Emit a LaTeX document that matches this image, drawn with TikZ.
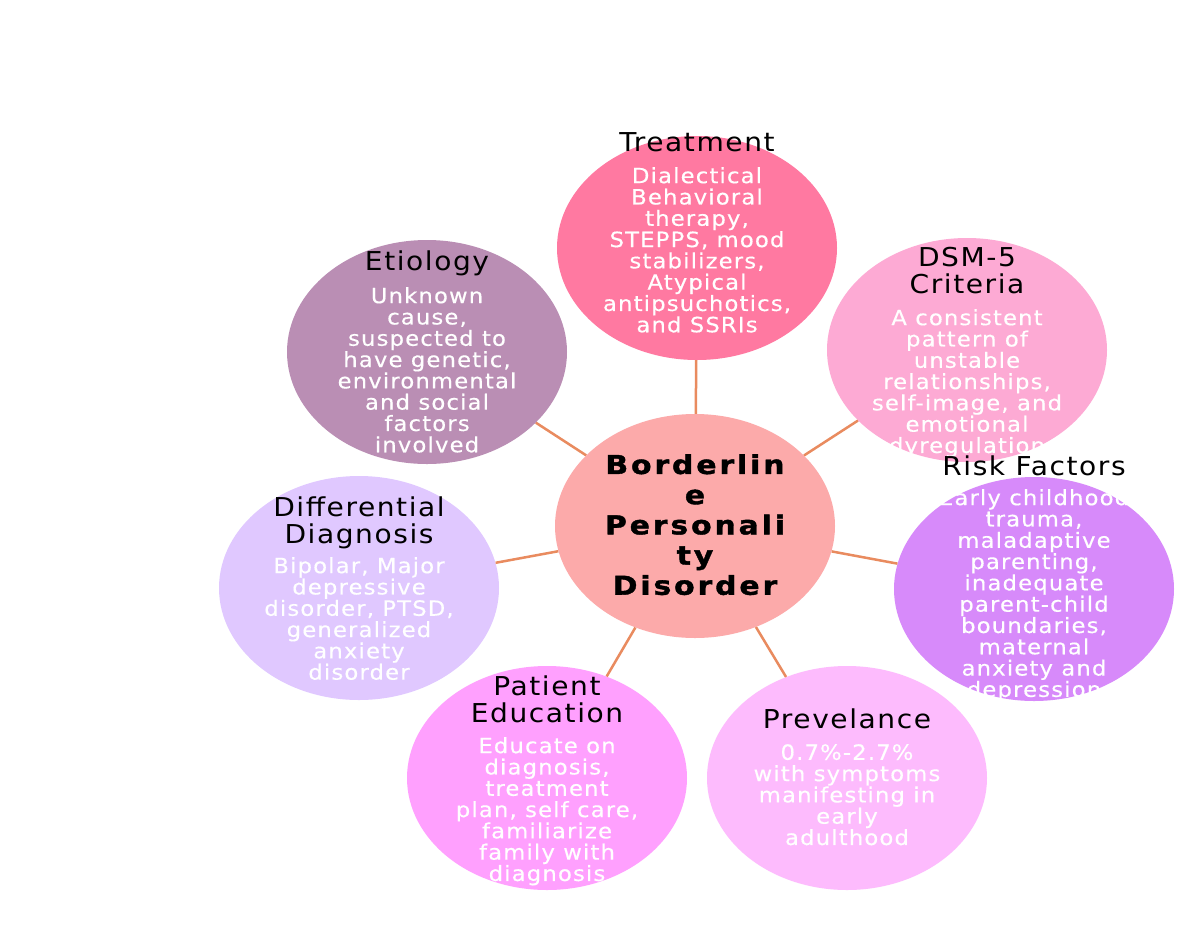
\documentclass[tikz,border=0pt]{standalone}
\usepackage{fontspec}
\usetikzlibrary{shapes.geometric}
\setmainfont{DejaVu Sans}
\newfontfamily\titlefont[FakeStretch=1.08,LetterSpace=6]{DejaVu Sans}
\newfontfamily\bodyfont[FakeStretch=1.08,LetterSpace=5.6,FakeBold=0.4]{DejaVu Sans}
\newfontfamily\centerfont[FakeStretch=1.15,LetterSpace=11,FakeBold=1.5]{DejaVu Sans}
\definecolor{cCenter}{RGB}{252,170,170}
\definecolor{cTreat}{RGB}{255,121,161}
\definecolor{cDsm}{RGB}{253,170,212}
\definecolor{cRisk}{RGB}{215,138,250}
\definecolor{cPrev}{RGB}{253,187,253}
\definecolor{cEdu}{RGB}{255,160,254}
\definecolor{cDiff}{RGB}{224,200,255}
\definecolor{cEtio}{RGB}{186,142,180}
\definecolor{linkc}{RGB}{233,139,95}
\begin{document}
\begin{tikzpicture}[x=1pt,y=-1pt,
  bubble/.style={ellipse, minimum width=280pt, minimum height=224pt, inner sep=0pt, draw=none},
  conn/.style={draw=linkc, line width=2.5pt},
  ttl/.style={anchor=north, inner sep=0pt, align=center, text=black, font=\titlefont\fontsize{26}{27}\selectfont},
  bdy/.style={anchor=north, inner sep=0pt, align=center, text=white, font=\bodyfont\fontsize{21}{21.3}\selectfont},
  ctr/.style={anchor=north, inner sep=0pt, align=center, text=black, font=\centerfont\bfseries\fontsize{26}{30.2}\selectfont}]
\fill[white] (0,0) rectangle (1200,927);
\useasboundingbox (0,0) rectangle (1200,927);
% bubbles
\node[bubble, fill=cCenter] (bpd) at (695,526) {};
\node[bubble, fill=cTreat] (treat) at (697,248) {};
\node[bubble, fill=cDsm] (dsm) at (967,350) {};
\node[bubble, fill=cRisk] (risk) at (1034,589) {};
\node[bubble, fill=cPrev] (prev) at (847,778) {};
\node[bubble, fill=cEdu] (edu) at (547,778) {};
\node[bubble, fill=cDiff] (diff) at (359,588) {};
\node[bubble, fill=cEtio] (etio) at (427,352) {};
% connectors
\draw[conn] (bpd) -- (treat);
\draw[conn] (bpd) -- (dsm);
\draw[conn] (bpd) -- (risk);
\draw[conn] (bpd) -- (prev);
\draw[conn] (bpd) -- (edu);
\draw[conn] (bpd) -- (diff);
\draw[conn] (bpd) -- (etio);
% texts
\node[ctr] (bpdT) at (695,454) {Borderlin\\e\\Personali\\ty\\Disorder};
\node[ttl] (treatT) at (697,132) {Treatment};
\node[bdy] (treatB) at (697,167) {Dialectical\\Behavioral\\therapy,\\STEPPS, mood\\stabilizers,\\Atypical\\antipsuchotics,\\and SSRIs};
\node[ttl] (dsmT) at (967,247) {DSM-5\\Criteria};
\node[bdy] (dsmB) at (967,309) {A consistent\\pattern of\\unstable\\relationships,\\self-image, and\\emotional\\dyregulation};
\node[ttl] (riskT) at (1034,456) {Risk Factors};
\node[bdy] (riskB) at (1034,489) {Early childhood\\trauma,\\maladaptive\\parenting,\\inadequate\\parent-child\\boundaries,\\maternal\\anxiety and\\depression};
\node[ttl] (etioT) at (427,251) {Etiology};
\node[bdy] (etioB) at (427,287) {Unknown\\cause,\\suspected to\\have genetic,\\environmental\\and social\\factors\\involved};
\node[ttl] (diffT) at (359,497) {Differential\\Diagnosis};
\node[bdy] (diffB) at (359,557) {Bipolar, Major\\depressive\\disorder, PTSD,\\generalized\\anxiety\\disorder};
\node[ttl] (eduT) at (547,676) {Patient\\Education};
\node[bdy] (eduB) at (547,737) {Educate on\\diagnosis,\\treatment\\plan, self care,\\familiarize\\family with\\diagnosis};
\node[ttl] (prevT) at (847,709) {Prevelance};
\node[bdy] (prevB) at (847,744) {0.7\%-2.7\%\\with symptoms\\manifesting in\\early\\adulthood};
\end{tikzpicture}
\end{document}
